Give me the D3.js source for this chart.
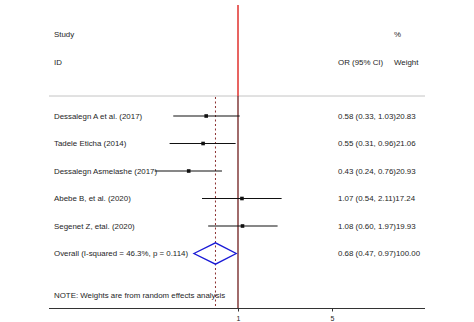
<!DOCTYPE html>
<html><head><meta charset="utf-8">
<script src="https://cdn.jsdelivr.net/npm/d3@7"></script>
<style>
html,body{margin:0;padding:0;background:#fff;}
svg{display:block;font-family:"Liberation Sans",Arial,sans-serif;}
</style></head>
<body>
<svg id="chart" width="474" height="322"></svg>
<script>
const studies = ["Dessalegn A et al. (2017)", "Tadele Eticha (2014)", "Dessalegn Asmelashe (2017)", "Abebe B, et al. (2020)", "Segenet Z, etal. (2020)"];
const orValues = [0.58, 0.55, 0.43, 1.07, 1.08];
const ciLow = [0.33, 0.31, 0.24, 0.54, 0.60];
const ciHigh = [1.03, 0.96, 0.76, 2.11, 1.97];
const weights = [20.83, 21.06, 20.93, 17.24, 19.93];
const overallLabel = "Overall  (I-squared = 46.3%, p = 0.114)";
const overall = [0.68, 0.47, 0.97, 100.00];
const tickValues = [1, 5];
const noteText = "NOTE: Weights are from random effects analysis";

const svg = d3.select("#chart");
const x = d3.scaleLog().domain([0.04, 25]).range([50, 426]);
const y = d3.scaleLinear().domain([0, 5]).range([116, 253.5]);
const fs = "7.9px";
const txtCol = "#1e1e1e";
const fmt = d => d.toFixed(2);

// header
svg.append("text").attr("x", 54).attr("y", 37).text("Study").attr("font-size", fs).attr("fill", txtCol);
svg.append("text").attr("x", 54).attr("y", 65).text("ID").attr("font-size", fs).attr("fill", txtCol);
svg.append("text").attr("x", 394).attr("y", 37).text("%").attr("font-size", fs).attr("fill", txtCol);
svg.append("text").attr("x", 338).attr("y", 65).text("OR (95% CI)").attr("font-size", fs).attr("fill", txtCol);
svg.append("text").attr("x", 394).attr("y", 65).text("Weight").attr("font-size", fs).attr("fill", txtCol);

// gray separator
svg.append("line").attr("x1", 49).attr("x2", 425).attr("y1", 96).attr("y2", 96)
  .attr("stroke", "#c4c4c4").attr("stroke-width", 1);

// null line: red top, maroon below
svg.append("line").attr("x1", x(1)).attr("x2", x(1)).attr("y1", 5).attr("y2", 96)
  .attr("stroke", "#e0302c").attr("stroke-width", 1.5);
svg.append("line").attr("x1", x(1)).attr("x2", x(1)).attr("y1", 96).attr("y2", 309)
  .attr("stroke", "#6e1c1c").attr("stroke-width", 1.3);

// overall dashed line
svg.append("line").attr("x1", x(overall[0])).attr("x2", x(overall[0])).attr("y1", 97).attr("y2", 309)
  .attr("stroke", "#8a3030").attr("stroke-width", 1).attr("stroke-dasharray", "2,2.5");

// study rows
const g = svg.append("g");
studies.forEach((s, i) => {
  const yy = y(i);
  g.append("line").attr("x1", x(ciLow[i])).attr("x2", x(ciHigh[i])).attr("y1", yy).attr("y2", yy)
    .attr("stroke", "#111").attr("stroke-width", 1.1);
  g.append("rect").attr("x", x(orValues[i]) - 1.8).attr("y", yy - 1.8).attr("width", 3.6).attr("height", 3.6)
    .attr("fill", "#111");
  g.append("text").attr("x", 54).attr("y", yy + 2.8).text(s).attr("font-size", fs).attr("fill", txtCol);
  g.append("text").attr("x", 338).attr("y", yy + 2.8)
    .text(fmt(orValues[i]) + " (" + fmt(ciLow[i]) + ", " + fmt(ciHigh[i]) + ")" + fmt(weights[i]))
    .attr("font-size", fs).attr("fill", txtCol);
});

// overall
const oy = y(5);
const dh = 10.7;
svg.append("path")
  .attr("d", `M${x(overall[1])},${oy} L${x(overall[0])},${oy - dh} L${x(overall[2])},${oy} L${x(overall[0])},${oy + dh} Z`)
  .attr("fill", "none").attr("stroke", "#1a1ad6").attr("stroke-width", 1.3);
svg.append("text").attr("x", 54).attr("y", oy + 2.8).text(overallLabel).attr("font-size", fs).attr("fill", txtCol);
svg.append("text").attr("x", 338).attr("y", oy + 2.8)
  .text(fmt(overall[0]) + " (" + fmt(overall[1]) + ", " + fmt(overall[2]) + ")" + fmt(overall[3]))
  .attr("font-size", fs).attr("fill", txtCol);

// note
svg.append("text").attr("x", 54).attr("y", 298).text(noteText).attr("font-size", fs).attr("fill", txtCol);

// axis
const axis = d3.axisBottom(x).tickValues(tickValues).tickFormat(d3.format("d")).tickSize(3).tickSizeOuter(0);
const ax = svg.append("g").attr("transform", "translate(0,308.5)").call(axis);
ax.select(".domain").attr("stroke", "#333").attr("stroke-width", 1.2).attr("d", `M49,0H425`);
ax.selectAll(".tick line").attr("stroke", "#333");
ax.selectAll(".tick text").attr("font-size", "7px").attr("fill", txtCol)
  .attr("y", 12.3).attr("dy", null).attr("dominant-baseline", "auto")
  .attr("font-family", "Liberation Sans, Arial, sans-serif");
</script>
</body></html>
